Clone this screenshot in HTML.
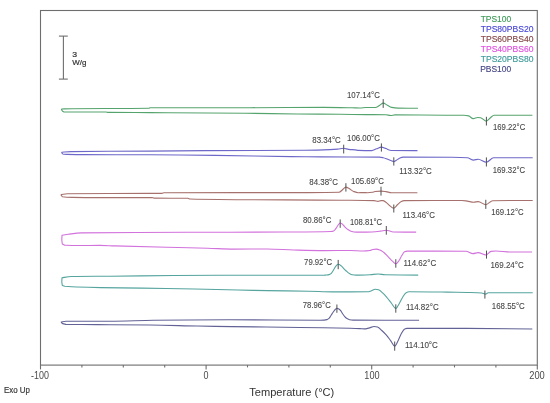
<!DOCTYPE html>
<html><head><meta charset="utf-8"><title>DSC</title>
<style>html,body{margin:0;padding:0;background:#fff;width:550px;height:403px;overflow:hidden}svg{display:block}</style>
</head><body>
<svg width="550" height="403" viewBox="0 0 550 403">
<rect width="550" height="403" fill="#fff"/>
<g fill="none" stroke="#6e6e6e" stroke-width="1.1">
<rect x="40.5" y="10.5" width="496.8" height="354.6"/>
<line x1="40.50" y1="365.1" x2="40.50" y2="369.4"/>
<line x1="81.90" y1="365.1" x2="81.90" y2="367.4"/>
<line x1="123.30" y1="365.1" x2="123.30" y2="367.4"/>
<line x1="164.70" y1="365.1" x2="164.70" y2="367.4"/>
<line x1="206.10" y1="365.1" x2="206.10" y2="369.4"/>
<line x1="247.50" y1="365.1" x2="247.50" y2="367.4"/>
<line x1="288.90" y1="365.1" x2="288.90" y2="367.4"/>
<line x1="330.30" y1="365.1" x2="330.30" y2="367.4"/>
<line x1="371.70" y1="365.1" x2="371.70" y2="369.4"/>
<line x1="413.10" y1="365.1" x2="413.10" y2="367.4"/>
<line x1="454.50" y1="365.1" x2="454.50" y2="367.4"/>
<line x1="495.90" y1="365.1" x2="495.90" y2="367.4"/>
<line x1="537.30" y1="365.1" x2="537.30" y2="369.4"/>
</g>
<g fill="none" stroke="#6e6e6e" stroke-width="1.1">
<line x1="63.4" y1="36.1" x2="63.4" y2="79.1"/><line x1="58.9" y1="36.1" x2="67.8" y2="36.1"/><line x1="58.9" y1="79.1" x2="67.8" y2="79.1"/>
</g>
<path fill="none" stroke="#55a46e" stroke-width="1.1" stroke-linejoin="round" d="M418.00,108.20C411.33,108.20 404.67,108.18 398.00,108.10C395.87,108.08 393.73,107.80 391.60,107.40C390.17,107.13 388.73,105.94 387.30,105.20C385.97,104.51 384.63,103.10 383.30,103.10C382.03,103.10 380.77,104.71 379.50,105.40C378.10,106.17 376.70,107.50 375.30,107.50C372.20,107.50 369.10,107.50 366.00,107.50C364.00,107.50 362.00,108.00 360.00,108.00C357.33,108.00 354.67,107.85 352.00,107.80C342.67,107.62 333.33,107.40 324.00,107.40C299.33,107.40 274.67,107.66 250.00,107.70C216.67,107.76 183.33,107.70 150.00,107.80C149.67,107.80 149.33,108.19 149.00,108.20C123.33,108.68 97.67,108.38 72.00,108.70C68.53,108.74 65.07,108.89 61.60,109.00L61.50,109.60L62.60,111.30L64.00,112.00C78.00,112.00 92.00,112.00 106.00,112.00C106.67,112.00 107.33,112.39 108.00,112.40C122.00,112.58 136.00,112.53 150.00,112.60C182.00,112.77 214.00,112.90 246.00,113.20C263.00,113.36 280.00,113.84 297.00,114.00C311.33,114.14 325.67,114.17 340.00,114.30C348.67,114.38 357.33,114.51 366.00,114.60C372.67,114.67 379.33,114.65 386.00,114.80C387.57,114.84 389.13,115.50 390.70,115.50C392.13,115.50 393.57,114.90 395.00,114.90C412.00,114.90 429.00,115.20 446.00,115.20C452.00,115.20 458.00,115.20 464.00,115.20C465.53,115.20 467.07,115.53 468.60,115.90C470.13,116.27 471.67,118.60 473.20,118.60C474.70,118.60 476.20,117.50 477.70,117.50C478.63,117.50 479.57,117.59 480.50,117.70C482.47,117.93 484.43,121.20 486.40,121.20C487.77,121.20 489.13,118.74 490.50,117.70C491.70,116.78 492.90,115.20 494.10,115.20C506.87,115.20 519.63,115.20 532.40,115.20"/>
<path fill="none" stroke="#6e68c8" stroke-width="1.1" stroke-linejoin="round" d="M417.50,150.60C408.80,150.60 400.10,150.58 391.40,150.50C389.57,150.48 387.73,149.22 385.90,148.60C384.40,148.09 382.90,147.10 381.40,147.10C379.77,147.10 378.13,148.21 376.50,148.80C374.93,149.37 373.37,150.60 371.80,150.60C367.37,150.60 362.93,150.55 358.50,150.40C357.40,150.36 356.30,150.02 355.20,149.90C353.00,149.67 350.80,149.66 348.60,149.40C346.97,149.21 345.33,148.30 343.70,148.30C341.70,148.30 339.70,148.92 337.70,149.10C335.13,149.33 332.57,149.50 330.00,149.60C321.67,149.92 313.33,150.13 305.00,150.20C271.67,150.47 238.33,150.41 205.00,150.60C186.67,150.71 168.33,150.96 150.00,151.10C123.67,151.30 97.33,151.21 71.00,151.60C67.93,151.65 64.87,151.98 61.80,152.20L61.80,152.80L62.80,154.00L63.80,154.30C70.10,154.42 76.40,154.56 82.70,154.60C105.13,154.73 127.57,154.70 150.00,154.80C171.67,154.90 193.33,155.15 215.00,155.40C240.33,155.69 265.67,156.30 291.00,156.60C301.13,156.72 311.27,156.85 321.40,156.90C340.77,157.00 360.13,156.92 379.50,157.10C380.73,157.11 381.97,157.43 383.20,157.70C384.70,158.03 386.20,158.75 387.70,159.30C388.93,159.75 390.17,160.22 391.40,160.70C392.17,161.00 392.93,161.60 393.70,161.60C394.60,161.60 395.50,160.72 396.40,160.20C397.43,159.61 398.47,158.63 399.50,158.20C400.73,157.69 401.97,157.10 403.20,157.10C419.40,157.10 435.60,157.17 451.80,157.30C456.97,157.34 462.13,157.42 467.30,157.70C469.40,157.82 471.50,160.10 473.60,160.10C475.13,160.10 476.67,159.20 478.20,159.20C480.93,159.20 483.67,162.30 486.40,162.30C488.80,162.30 491.20,157.70 493.60,157.70C506.63,157.70 519.67,157.70 532.70,157.70"/>
<path fill="none" stroke="#a6706c" stroke-width="1.1" stroke-linejoin="round" d="M417.40,192.80C408.73,192.80 400.07,192.78 391.40,192.70C389.60,192.68 387.80,191.84 386.00,191.60C384.33,191.38 382.67,191.10 381.00,191.10C379.00,191.10 377.00,191.26 375.00,191.50C374.10,191.61 373.20,192.17 372.30,192.30C370.77,192.52 369.23,192.70 367.70,192.70C366.33,192.70 364.97,192.60 363.60,192.60C361.80,192.60 360.00,192.70 358.20,192.70C356.67,192.70 355.13,192.00 353.60,191.40C352.10,190.82 350.60,189.40 349.10,188.60C348.03,188.03 346.97,187.10 345.90,187.10C344.77,187.10 343.63,188.83 342.50,189.70C341.37,190.57 340.23,192.27 339.10,192.30C328.23,192.57 317.37,192.58 306.50,192.60C259.00,192.68 211.50,192.60 164.00,192.70C163.33,192.70 162.67,193.40 162.00,193.40C158.00,193.40 154.00,193.40 150.00,193.40C122.43,193.40 94.87,193.43 67.30,193.70C65.27,193.72 63.23,194.22 61.20,194.50L61.20,195.40L62.40,196.70L66.70,197.30C76.13,197.43 85.57,197.60 95.00,197.60C114.00,197.60 133.00,197.60 152.00,197.60C152.67,197.60 153.33,198.09 154.00,198.10C165.33,198.28 176.67,198.12 188.00,198.30C188.67,198.31 189.33,198.98 190.00,199.00C240.17,200.13 290.33,199.70 340.50,200.20C351.67,200.31 362.83,200.27 374.00,200.60C375.33,200.64 376.67,201.40 378.00,201.40C379.00,201.40 380.00,200.60 381.00,200.60C381.67,200.60 382.33,200.60 383.00,200.60C383.97,200.60 384.93,201.62 385.90,202.30C387.10,203.14 388.30,204.59 389.50,205.50C390.87,206.54 392.23,208.20 393.60,208.20C394.97,208.20 396.33,205.69 397.70,204.50C398.77,203.57 399.83,202.35 400.90,201.80C401.97,201.25 403.03,200.61 404.10,200.60C423.33,200.51 442.57,200.50 461.80,200.50C463.63,200.50 465.47,200.86 467.30,201.10C469.40,201.38 471.50,202.20 473.60,202.20C475.13,202.20 476.67,201.60 478.20,201.60C480.73,201.60 483.27,204.70 485.80,204.70C488.10,204.70 490.40,200.73 492.70,200.70C506.03,200.53 519.37,200.50 532.70,200.50"/>
<path fill="none" stroke="#d272dc" stroke-width="1.1" stroke-linejoin="round" d="M416.20,232.10C408.57,232.10 400.93,232.08 393.30,232.00C390.97,231.98 388.63,230.20 386.30,230.20C384.37,230.20 382.43,230.90 380.50,231.10C375.83,231.58 371.17,232.10 366.50,232.10C363.13,232.10 359.77,232.10 356.40,232.10C354.57,232.10 352.73,231.69 350.90,231.20C349.70,230.88 348.50,229.97 347.30,229.10C346.70,228.67 346.10,228.08 345.50,227.50C344.87,226.89 344.23,226.15 343.60,225.50C343.03,224.92 342.47,224.16 341.90,223.80C341.33,223.44 340.77,223.00 340.20,223.00C339.67,223.00 339.13,223.81 338.60,224.40C338.03,225.03 337.47,226.16 336.90,227.00C336.37,227.79 335.83,228.67 335.30,229.30C334.73,229.97 334.17,230.81 333.60,231.00C332.73,231.29 331.87,231.48 331.00,231.50C316.00,231.93 301.00,231.92 286.00,232.00C253.00,232.17 220.00,232.17 187.00,232.30C151.73,232.44 116.47,232.40 81.20,232.90C76.83,232.96 72.47,233.75 68.10,234.30C66.07,234.56 64.03,234.87 62.00,235.20L61.80,240.00L62.30,244.00L64.80,245.20C68.80,245.34 72.80,245.50 76.80,245.50C84.53,245.50 92.27,245.40 100.00,245.40C104.83,245.40 109.67,245.75 114.50,245.90C132.00,246.44 149.50,246.88 167.00,247.30C180.53,247.63 194.07,247.83 207.60,248.20C216.33,248.44 225.07,249.10 233.80,249.10C245.03,249.10 256.27,249.00 267.50,249.00C276.20,249.00 284.90,249.77 293.60,250.00C303.73,250.27 313.87,250.60 324.00,250.60C332.67,250.60 341.33,250.50 350.00,250.50C354.37,250.50 358.73,251.00 363.10,251.00C365.40,251.00 367.70,250.81 370.00,250.50C370.90,250.38 371.80,249.66 372.70,249.50C373.93,249.29 375.17,249.10 376.40,249.10C377.60,249.10 378.80,249.57 380.00,250.00C381.20,250.43 382.40,251.38 383.60,252.30C385.13,253.48 386.67,255.27 388.20,256.80C389.70,258.30 391.20,260.11 392.70,261.40C393.77,262.31 394.83,263.80 395.90,263.80C396.97,263.80 398.03,261.92 399.10,260.50C400.00,259.30 400.90,256.92 401.80,255.50C402.70,254.08 403.60,252.18 404.50,251.80C405.43,251.40 406.37,251.10 407.30,251.10C426.87,251.10 446.43,251.12 466.00,251.30C468.33,251.32 470.67,253.60 473.00,253.60C474.67,253.60 476.33,252.60 478.00,252.60C480.67,252.60 483.33,255.00 486.00,255.00C487.67,255.00 489.33,251.64 491.00,251.40C492.67,251.16 494.33,251.00 496.00,251.00C500.67,251.00 505.33,252.00 510.00,252.00C517.33,252.00 524.67,252.00 532.00,252.00"/>
<path fill="none" stroke="#55a49e" stroke-width="1.1" stroke-linejoin="round" d="M418.20,275.10C407.13,275.10 396.07,274.99 385.00,274.70C382.73,274.64 380.47,274.00 378.20,274.00C375.47,274.00 372.73,274.58 370.00,274.70C365.33,274.91 360.67,275.10 356.00,275.10C354.73,275.10 353.47,274.92 352.20,274.70C351.33,274.55 350.47,274.07 349.60,273.60C348.77,273.15 347.93,272.39 347.10,271.70C346.23,270.98 345.37,270.16 344.50,269.30C343.67,268.47 342.83,267.39 342.00,266.60C341.33,265.97 340.67,265.22 340.00,264.90C339.40,264.61 338.80,264.30 338.20,264.30C337.57,264.30 336.93,265.00 336.30,265.60C335.67,266.20 335.03,267.50 334.40,268.50C333.83,269.40 333.27,270.46 332.70,271.30C332.13,272.14 331.57,273.18 331.00,273.60C330.33,274.09 329.67,274.45 329.00,274.60C328.00,274.82 327.00,274.89 326.00,275.00C324.97,275.12 323.93,275.30 322.90,275.30C301.93,275.30 280.97,275.20 260.00,275.20C231.33,275.20 202.67,275.34 174.00,275.50C152.67,275.62 131.33,276.01 110.00,276.20C97.13,276.32 84.27,276.27 71.40,276.50C68.27,276.56 65.13,277.29 62.00,277.80L61.80,282.00L62.30,285.50L64.80,286.30C68.80,286.58 72.80,286.85 76.80,287.00C84.80,287.29 92.80,287.47 100.80,287.60C114.53,287.83 128.27,287.91 142.00,288.10C159.47,288.35 176.93,288.66 194.40,289.00C208.93,289.29 223.47,289.69 238.00,290.00C247.77,290.21 257.53,290.43 267.30,290.60C281.20,290.84 295.10,290.92 309.00,291.20C316.90,291.36 324.80,291.90 332.70,291.90C344.47,291.90 356.23,291.89 368.00,291.80C368.97,291.79 369.93,291.22 370.90,290.90C372.37,290.41 373.83,289.30 375.30,289.30C376.37,289.30 377.43,289.53 378.50,289.80C379.97,290.17 381.43,291.79 382.90,293.10C384.37,294.41 385.83,296.25 387.30,298.00C388.73,299.71 390.17,301.71 391.60,303.50C393.00,305.24 394.40,308.60 395.80,308.60C396.97,308.60 398.13,305.42 399.30,303.50C400.37,301.75 401.43,299.21 402.50,297.50C403.60,295.74 404.70,293.53 405.80,292.90C406.90,292.27 408.00,291.70 409.10,291.70C421.83,291.70 434.57,291.92 447.30,292.10C453.97,292.19 460.63,292.33 467.30,292.50C472.13,292.62 476.97,292.65 481.80,293.00C483.03,293.09 484.27,294.10 485.50,294.10C486.40,294.10 487.30,292.80 488.20,292.80C503.03,292.80 517.87,292.80 532.70,292.80"/>
<path fill="none" stroke="#626296" stroke-width="1.1" stroke-linejoin="round" d="M419.10,320.30C397.07,320.30 375.03,320.28 353.00,320.10C351.87,320.09 350.73,319.91 349.60,319.70C348.73,319.54 347.87,319.10 347.00,318.60C346.17,318.12 345.33,317.32 344.50,316.40C343.87,315.70 343.23,314.65 342.60,313.70C341.97,312.75 341.33,311.47 340.70,310.70C340.10,309.97 339.50,309.14 338.90,308.90C338.23,308.63 337.57,308.40 336.90,308.40C336.03,308.40 335.17,309.67 334.30,310.60C333.53,311.42 332.77,312.74 332.00,313.90C331.50,314.66 331.00,315.55 330.50,316.30C330.00,317.05 329.50,317.97 329.00,318.40C328.33,318.97 327.67,319.41 327.00,319.60C326.07,319.86 325.13,320.06 324.20,320.10C322.80,320.16 321.40,320.20 320.00,320.20C289.77,320.20 259.53,319.80 229.30,319.80C204.07,319.80 178.83,320.04 153.60,320.30C139.07,320.45 124.53,321.20 110.00,321.20C95.30,321.20 80.60,321.20 65.90,321.20C64.33,321.20 62.77,321.71 61.20,322.00L61.60,322.80L62.60,323.60L65.90,324.40C76.43,324.46 86.97,324.53 97.50,324.60C115.00,324.72 132.50,324.80 150.00,325.00C165.77,325.18 181.53,325.70 197.30,326.00C208.87,326.22 220.43,326.42 232.00,326.60C254.67,326.94 277.33,327.17 300.00,327.50C316.67,327.74 333.33,327.93 350.00,328.30C353.33,328.37 356.67,328.45 360.00,328.60C361.47,328.66 362.93,328.90 364.40,328.90C365.83,328.90 367.27,328.42 368.70,328.10C370.53,327.69 372.37,326.50 374.20,326.50C375.30,326.50 376.40,326.73 377.50,327.00C378.93,327.36 380.37,329.21 381.80,330.50C383.27,331.82 384.73,333.25 386.20,334.90C387.63,336.51 389.07,338.51 390.50,340.40C391.90,342.24 393.30,346.10 394.70,346.10C395.87,346.10 397.03,342.57 398.20,340.40C399.30,338.36 400.40,335.14 401.50,333.30C402.57,331.51 403.63,329.30 404.70,328.90C405.43,328.63 406.17,328.40 406.90,328.40C426.60,328.40 446.30,328.40 466.00,328.40C488.10,328.40 510.20,328.69 532.30,329.00"/>
<g stroke="#505050" stroke-width="1.0">
<line x1="383.2" y1="99.1" x2="383.2" y2="107.9"/>
<line x1="486.4" y1="116.8" x2="486.4" y2="125.5"/>
<line x1="343.7" y1="144.7" x2="343.7" y2="153.5"/>
<line x1="381.4" y1="143.4" x2="381.4" y2="151.6"/>
<line x1="393.8" y1="157.3" x2="393.8" y2="165.6"/>
<line x1="486.4" y1="157.4" x2="486.4" y2="166.5"/>
<line x1="345.9" y1="183.2" x2="345.9" y2="191.6"/>
<line x1="381.0" y1="186.7" x2="381.0" y2="195.6"/>
<line x1="393.8" y1="204.5" x2="393.8" y2="212.5"/>
<line x1="485.8" y1="199.8" x2="485.8" y2="208.9"/>
<line x1="340.2" y1="219.4" x2="340.2" y2="227.8"/>
<line x1="386.3" y1="226.0" x2="386.3" y2="234.7"/>
<line x1="395.8" y1="259.2" x2="395.8" y2="267.7"/>
<line x1="486.5" y1="250.6" x2="486.5" y2="258.6"/>
<line x1="338.2" y1="259.9" x2="338.2" y2="269.2"/>
<line x1="395.8" y1="304.3" x2="395.8" y2="312.7"/>
<line x1="484.9" y1="290.5" x2="484.9" y2="298.6"/>
<line x1="336.9" y1="304.5" x2="336.9" y2="312.8"/>
<line x1="394.7" y1="341.5" x2="394.7" y2="350.7"/>
</g>
<text x="347.00" y="97.6" font-family="Liberation Sans, Arial, sans-serif" font-size="8.4" textLength="32.80" lengthAdjust="spacingAndGlyphs" fill="#444444" stroke="#444444" stroke-width="0.08">107.14°C</text>
<text x="493.01" y="129.5" font-family="Liberation Sans, Arial, sans-serif" font-size="8.4" textLength="32.28" lengthAdjust="spacingAndGlyphs" fill="#444444" stroke="#444444" stroke-width="0.08">169.22°C</text>
<text x="312.26" y="142.5" font-family="Liberation Sans, Arial, sans-serif" font-size="8.4" textLength="28.54" lengthAdjust="spacingAndGlyphs" fill="#444444" stroke="#444444" stroke-width="0.08">83.34°C</text>
<text x="347.00" y="140.5" font-family="Liberation Sans, Arial, sans-serif" font-size="8.4" textLength="32.90" lengthAdjust="spacingAndGlyphs" fill="#444444" stroke="#444444" stroke-width="0.08">106.00°C</text>
<text x="399.21" y="174.2" font-family="Liberation Sans, Arial, sans-serif" font-size="8.4" textLength="32.59" lengthAdjust="spacingAndGlyphs" fill="#444444" stroke="#444444" stroke-width="0.08">113.32°C</text>
<text x="492.71" y="172.6" font-family="Liberation Sans, Arial, sans-serif" font-size="8.4" textLength="32.49" lengthAdjust="spacingAndGlyphs" fill="#444444" stroke="#444444" stroke-width="0.08">169.32°C</text>
<text x="309.26" y="184.7" font-family="Liberation Sans, Arial, sans-serif" font-size="8.4" textLength="28.64" lengthAdjust="spacingAndGlyphs" fill="#444444" stroke="#444444" stroke-width="0.08">84.38°C</text>
<text x="351.00" y="183.9" font-family="Liberation Sans, Arial, sans-serif" font-size="8.4" textLength="32.90" lengthAdjust="spacingAndGlyphs" fill="#444444" stroke="#444444" stroke-width="0.08">105.69°C</text>
<text x="402.51" y="217.6" font-family="Liberation Sans, Arial, sans-serif" font-size="8.4" textLength="32.49" lengthAdjust="spacingAndGlyphs" fill="#444444" stroke="#444444" stroke-width="0.08">113.46°C</text>
<text x="491.21" y="215.3" font-family="Liberation Sans, Arial, sans-serif" font-size="8.4" textLength="32.39" lengthAdjust="spacingAndGlyphs" fill="#444444" stroke="#444444" stroke-width="0.08">169.12°C</text>
<text x="302.96" y="223.3" font-family="Liberation Sans, Arial, sans-serif" font-size="8.4" textLength="28.44" lengthAdjust="spacingAndGlyphs" fill="#444444" stroke="#444444" stroke-width="0.08">80.86°C</text>
<text x="350.02" y="225.4" font-family="Liberation Sans, Arial, sans-serif" font-size="8.4" textLength="32.08" lengthAdjust="spacingAndGlyphs" fill="#444444" stroke="#444444" stroke-width="0.08">108.81°C</text>
<text x="403.40" y="266.4" font-family="Liberation Sans, Arial, sans-serif" font-size="8.4" textLength="32.80" lengthAdjust="spacingAndGlyphs" fill="#444444" stroke="#444444" stroke-width="0.08">114.62°C</text>
<text x="490.39" y="268.0" font-family="Liberation Sans, Arial, sans-serif" font-size="8.4" textLength="33.31" lengthAdjust="spacingAndGlyphs" fill="#444444" stroke="#444444" stroke-width="0.08">169.24°C</text>
<text x="304.10" y="265.1" font-family="Liberation Sans, Arial, sans-serif" font-size="8.4" textLength="27.99" lengthAdjust="spacingAndGlyphs" fill="#444444" stroke="#444444" stroke-width="0.08">79.92°C</text>
<text x="405.90" y="309.8" font-family="Liberation Sans, Arial, sans-serif" font-size="8.4" textLength="32.80" lengthAdjust="spacingAndGlyphs" fill="#444444" stroke="#444444" stroke-width="0.08">114.82°C</text>
<text x="491.80" y="308.6" font-family="Liberation Sans, Arial, sans-serif" font-size="8.4" textLength="33.00" lengthAdjust="spacingAndGlyphs" fill="#444444" stroke="#444444" stroke-width="0.08">168.55°C</text>
<text x="302.80" y="308.1" font-family="Liberation Sans, Arial, sans-serif" font-size="8.4" textLength="27.99" lengthAdjust="spacingAndGlyphs" fill="#444444" stroke="#444444" stroke-width="0.08">78.96°C</text>
<text x="404.90" y="348.1" font-family="Liberation Sans, Arial, sans-serif" font-size="8.4" textLength="33.00" lengthAdjust="spacingAndGlyphs" fill="#444444" stroke="#444444" stroke-width="0.08">114.10°C</text>
<text x="480.71" y="22.4" font-family="Liberation Sans, Arial, sans-serif" font-size="9" textLength="30.52" lengthAdjust="spacingAndGlyphs" fill="#3f9a5a" stroke="#3f9a5a" stroke-width="0.15">TPS100</text>
<text x="480.71" y="32.4" font-family="Liberation Sans, Arial, sans-serif" font-size="9" textLength="52.83" lengthAdjust="spacingAndGlyphs" fill="#4848d8" stroke="#4848d8" stroke-width="0.15">TPS80PBS20</text>
<text x="480.71" y="42.4" font-family="Liberation Sans, Arial, sans-serif" font-size="9" textLength="52.83" lengthAdjust="spacingAndGlyphs" fill="#864848" stroke="#864848" stroke-width="0.15">TPS60PBS40</text>
<text x="480.71" y="52.4" font-family="Liberation Sans, Arial, sans-serif" font-size="9" textLength="52.83" lengthAdjust="spacingAndGlyphs" fill="#e050e0" stroke="#e050e0" stroke-width="0.15">TPS40PBS60</text>
<text x="480.71" y="62.4" font-family="Liberation Sans, Arial, sans-serif" font-size="9" textLength="52.83" lengthAdjust="spacingAndGlyphs" fill="#3f9a9a" stroke="#3f9a9a" stroke-width="0.15">TPS20PBS80</text>
<text x="480.21" y="72.4" font-family="Liberation Sans, Arial, sans-serif" font-size="9" textLength="31.02" lengthAdjust="spacingAndGlyphs" fill="#484888" stroke="#484888" stroke-width="0.15">PBS100</text>
<text x="72.27" y="56.7" font-family="Liberation Sans, Arial, sans-serif" font-size="7.8" textLength="4.81" lengthAdjust="spacingAndGlyphs" fill="#333" stroke="#333" stroke-width="0.2">3</text>
<text x="72.37" y="64.6" font-family="Liberation Sans, Arial, sans-serif" font-size="7.8" textLength="14.15" lengthAdjust="spacingAndGlyphs" fill="#333" stroke="#333" stroke-width="0.2">W/g</text>
<text x="31.10" y="378.7" font-family="Liberation Sans, Arial, sans-serif" font-size="10" textLength="17.84" lengthAdjust="spacingAndGlyphs" fill="#4a4a4a">-100</text>
<text x="203.45" y="378.7" font-family="Liberation Sans, Arial, sans-serif" font-size="10" textLength="5.00" lengthAdjust="spacingAndGlyphs" fill="#4a4a4a">0</text>
<text x="364.30" y="378.7" font-family="Liberation Sans, Arial, sans-serif" font-size="10" textLength="15.25" lengthAdjust="spacingAndGlyphs" fill="#4a4a4a">100</text>
<text x="529.23" y="378.7" font-family="Liberation Sans, Arial, sans-serif" font-size="10" textLength="15.53" lengthAdjust="spacingAndGlyphs" fill="#4a4a4a">200</text>
<text x="249.25" y="396.4" font-family="Liberation Sans, Arial, sans-serif" font-size="11.3" textLength="85.02" lengthAdjust="spacingAndGlyphs" fill="#333">Temperature (°C)</text>
<text x="3.95" y="392.7" font-family="Liberation Sans, Arial, sans-serif" font-size="8.5" textLength="25.88" lengthAdjust="spacingAndGlyphs" fill="#3a3a3a" stroke="#3a3a3a" stroke-width="0.2">Exo Up</text>
</svg>
</body></html>
